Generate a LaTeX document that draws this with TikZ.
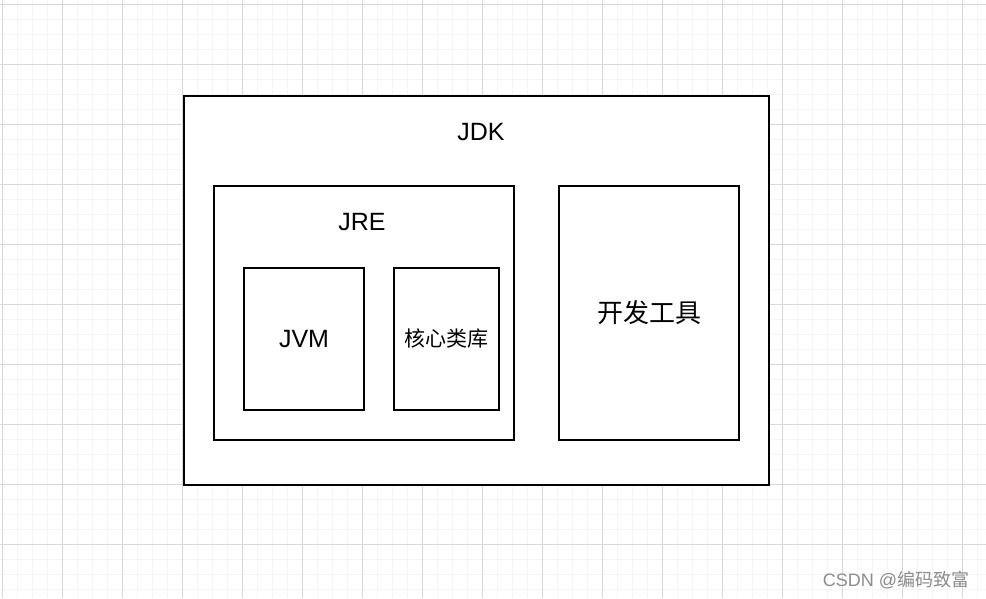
\documentclass[tikz,border=0pt]{standalone}
\usepackage{fontspec}
\setmainfont{Liberation Sans}
\newfontfamily\cjk{Noto Sans CJK SC}
\usepackage{xcolor}
\usetikzlibrary{positioning}

\definecolor{gridmajor}{HTML}{D8D8D8}
\definecolor{gridminor}{HTML}{F5F5F5}
\definecolor{wmgray}{HTML}{8C8C8C}

\begin{document}
\begin{tikzpicture}[
    x=1pt, y=-1pt,
    font=\fontsize{25}{30}\selectfont,
    box/.style={
      rectangle, draw=black, line width=1.3pt, fill=white,
      inner sep=0pt, outer sep=0pt, align=center
    },
    lbl/.style={inner sep=0pt, outer sep=0pt},
    cjkbig/.style={font=\cjk\fontsize{26}{30}\selectfont},
    cjksmall/.style={font=\cjk\fontsize{21}{26}\selectfont},
    minorline/.style={gridminor, line width=1pt},
    majorline/.style={gridmajor, line width=1pt}
  ]
    \useasboundingbox[fill=white] (0,0) rectangle (986,598);
    % background grid
    \foreach \gx in {2.7,17.7,...,986} {\draw[minorline] (\gx,0) -- (\gx,598);}
    \foreach \gy in {4,19,...,598} {\draw[minorline] (0,\gy) -- (986,\gy);}
    \foreach \gx in {2.7,62.7,...,986} {\draw[majorline] (\gx,0) -- (\gx,598);}
    \foreach \gy in {4,64,...,598} {\draw[majorline] (0,\gy) -- (986,\gy);}

    % outer JDK box
    \node[box, minimum width=585pt, minimum height=389pt] (jdk) at (476.5,290.5) {};
    \node[lbl, below=27pt of jdk.north, xshift=4.5pt] (jdklabel) {JDK};

    % JRE with its two parts
    \node[box, minimum width=300pt, minimum height=254pt] (jre) at (364,313) {};
    \node[lbl, below=27pt of jre.north, xshift=-2pt] (jrelabel) {JRE};
    \node[box, minimum width=120pt, minimum height=142pt] (jvm) at (304,339) {JVM};
    \node[box, minimum width=105pt, minimum height=142pt, cjksmall] (corelib) at (446.5,339) {核心类库};

    % tools
    \node[box, minimum width=180pt, minimum height=254pt, cjkbig] (devtools) at (649,313) {开发工具};

    % watermark
    \node[lbl, text=wmgray, font=\fontsize{18}{21}\selectfont] (watermark) at (896,580)
      {CSDN @{\cjk 编码致富}};
\end{tikzpicture}
\end{document}
